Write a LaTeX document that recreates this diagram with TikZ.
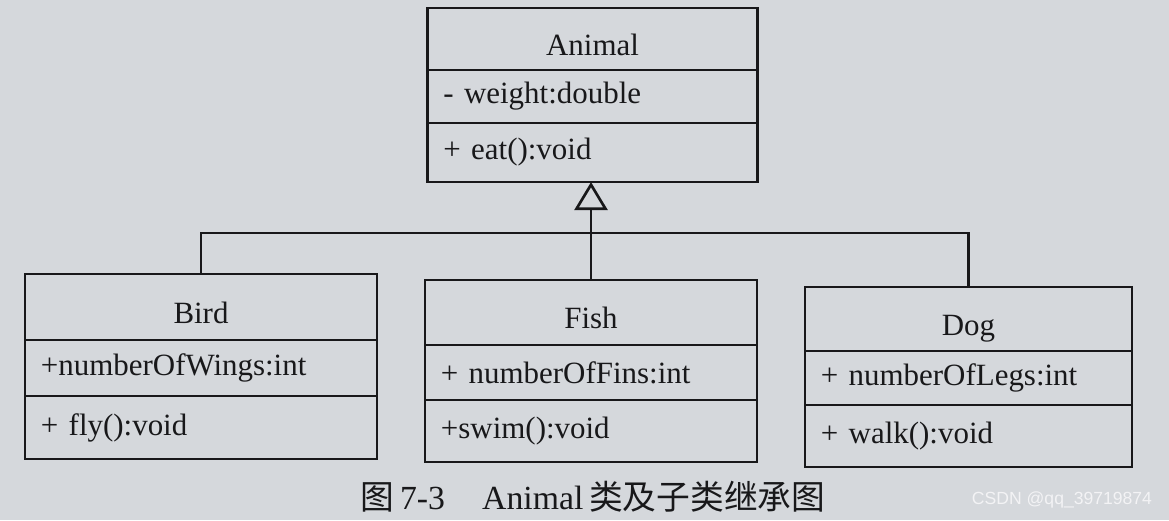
\documentclass[tikz,border=0pt]{standalone}
\usepackage{fontspec}
\setmainfont{Liberation Serif}
\newfontfamily\cjk{Noto Sans CJK SC}
\newfontfamily\wmfont{Liberation Sans}
\usetikzlibrary{arrows.meta,positioning}
\definecolor{papier}{RGB}{213,216,220}
\definecolor{tinte}{RGB}{24,24,26}

\begin{document}
\begin{tikzpicture}[x=0.025cm,y=-0.025cm]
  % Hintergrund.
  \fill[papier] (0,0) rectangle (1169,520);

  % Klassen.
  \tikzstyle{teil}=[draw=tinte, line width=1.9pt, text=tinte, outer sep=0pt, inner xsep=0.4cm, inner ysep=0pt, font=\fontsize{22}{26}\selectfont]
  \tikzstyle{kopf}=[teil, align=center, text height=23pt, text depth=0pt]
  \tikzstyle{glied}=[teil, align=left]
  \tikzstyle{linie}=[draw=tinte, line width=1.9pt]

  \node[kopf, minimum width=8.25cm, minimum height=1.55cm, anchor=north] (animal) at (592.5,8) {Animal};
  \node[glied, text width=7.45cm, minimum height=1.325cm, below=0pt of animal] (animal-attr) {- weight:double};
  \node[glied, text width=7.45cm, minimum height=1.475cm, below=0pt of animal-attr] (animal-ops) {+ eat():void};

  \node[kopf, minimum width=8.8cm, minimum height=1.65cm, anchor=north] (bird) at (201,274) {Bird};
  \node[glied, text width=8cm, minimum height=1.4cm, below=0pt of bird] (bird-attr) {+numberOfWings:int};
  \node[glied, text width=8cm, minimum height=1.575cm, below=0pt of bird-attr] (bird-ops) {+ fly():void};

  \node[kopf, minimum width=8.3cm, minimum height=1.625cm, anchor=north] (fish) at (591,280) {Fish};
  \node[glied, text width=7.5cm, minimum height=1.375cm, below=0pt of fish] (fish-attr) {+ numberOfFins:int};
  \node[glied, text width=7.5cm, minimum height=1.55cm, below=0pt of fish-attr] (fish-ops) {+swim():void};

  \node[kopf, minimum width=8.175cm, minimum height=1.6cm, anchor=north] (dog) at (968.5,287) {Dog};
  \node[glied, text width=7.375cm, minimum height=1.35cm, below=0pt of dog] (dog-attr) {+ numberOfLegs:int};
  \node[glied, text width=7.375cm, minimum height=1.55cm, below=0pt of dog-attr] (dog-ops) {+ walk():void};

  % Vererbung.
  \coordinate (knick) at (583,233);
  \draw[linie] (bird.north) |- (knick) -| (dog.north);
  \draw[linie, -{Triangle[fill=papier, width=0.825cm, length=0.7cm]}] (fish.north) -- (fish.north |- animal-ops.south);

  % Bildunterschrift.
  \node[text=tinte, font=\fontsize{24}{28}\selectfont] (titel) at (593,497) {{\cjk 图}\,7-3\hspace{1.1em}Animal\,{\cjk 类及子类继承图}};
  \node[text=white!70!papier, font=\wmfont\fontsize{12.5}{15}\selectfont, anchor=east] (marke) at (1157,500) {CSDN @qq\_39719874};
\end{tikzpicture}
\end{document}
